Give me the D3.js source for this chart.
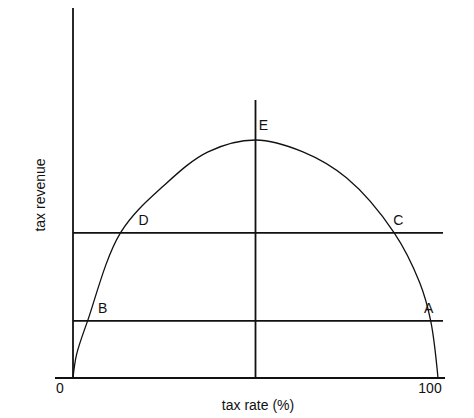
<!DOCTYPE html><html><head><script src="https://cdn.jsdelivr.net/npm/d3@7"></script>
<style>body{margin:0;background:#fff}text{font-family:"Liberation Sans",Arial,sans-serif;fill:#111}</style></head><body>
<svg id="c" width="474" height="418"></svg>
<script>
const rates=[0,1,4,13,25,37,50,63,75,88,95,98,100];
const revenue=[0,10,24,61,81,95,100,95,84,61,40,24,0];
const levels=[24,61];
const pointLabels=[{t:"B",r:4,v:24},{t:"D",r:13,v:61},{t:"C",r:88,v:61},{t:"A",r:98,v:24},{t:"E",r:50,v:100}];
const svg=d3.select("#c");
const x=d3.scaleLinear().domain([0,100]).range([73,438]);
const y=d3.scaleLinear().domain([0,100]).range([378,140]);
const ln=(x1,y1,x2,y2)=>svg.append("line").attr("x1",x1).attr("y1",y1).attr("x2",x2).attr("y2",y2).attr("stroke","#111").attr("stroke-width",1.8);
ln(x(0),8,x(0),y(0));ln(55,y(0),445,y(0));
levels.forEach(l=>ln(x(0),y(l),443,y(l)));
ln(x(50),100,x(50),y(0));
svg.append("path").datum(rates.map((r,i)=>[r,revenue[i]])).attr("fill","none").attr("stroke","#111").attr("stroke-width",1.3)
 .attr("d",d3.line().x(d=>x(d[0])).y(d=>y(d[1])).curve(d3.curveCatmullRom));
const off={B:[15,-8],D:[23,-8],C:[4,-8],A:[-2,-8],E:[8,-10]};
pointLabels.forEach(p=>svg.append("text").attr("x",x(p.r)+off[p.t][0]).attr("y",y(p.v)+off[p.t][1]).attr("text-anchor","middle").attr("font-size",14).text(p.t));
svg.append("text").attr("x",60).attr("y",393).attr("text-anchor","middle").attr("font-size",14).text("0");
svg.append("text").attr("x",430).attr("y",393).attr("text-anchor","middle").attr("font-size",14).text("100");
svg.append("text").attr("x",258).attr("y",410).attr("text-anchor","middle").attr("font-size",14).text("tax rate (%)");
svg.append("text").attr("transform","translate(45,195) rotate(-90)").attr("text-anchor","middle").attr("font-size",14).text("tax revenue");
</script></body></html>
